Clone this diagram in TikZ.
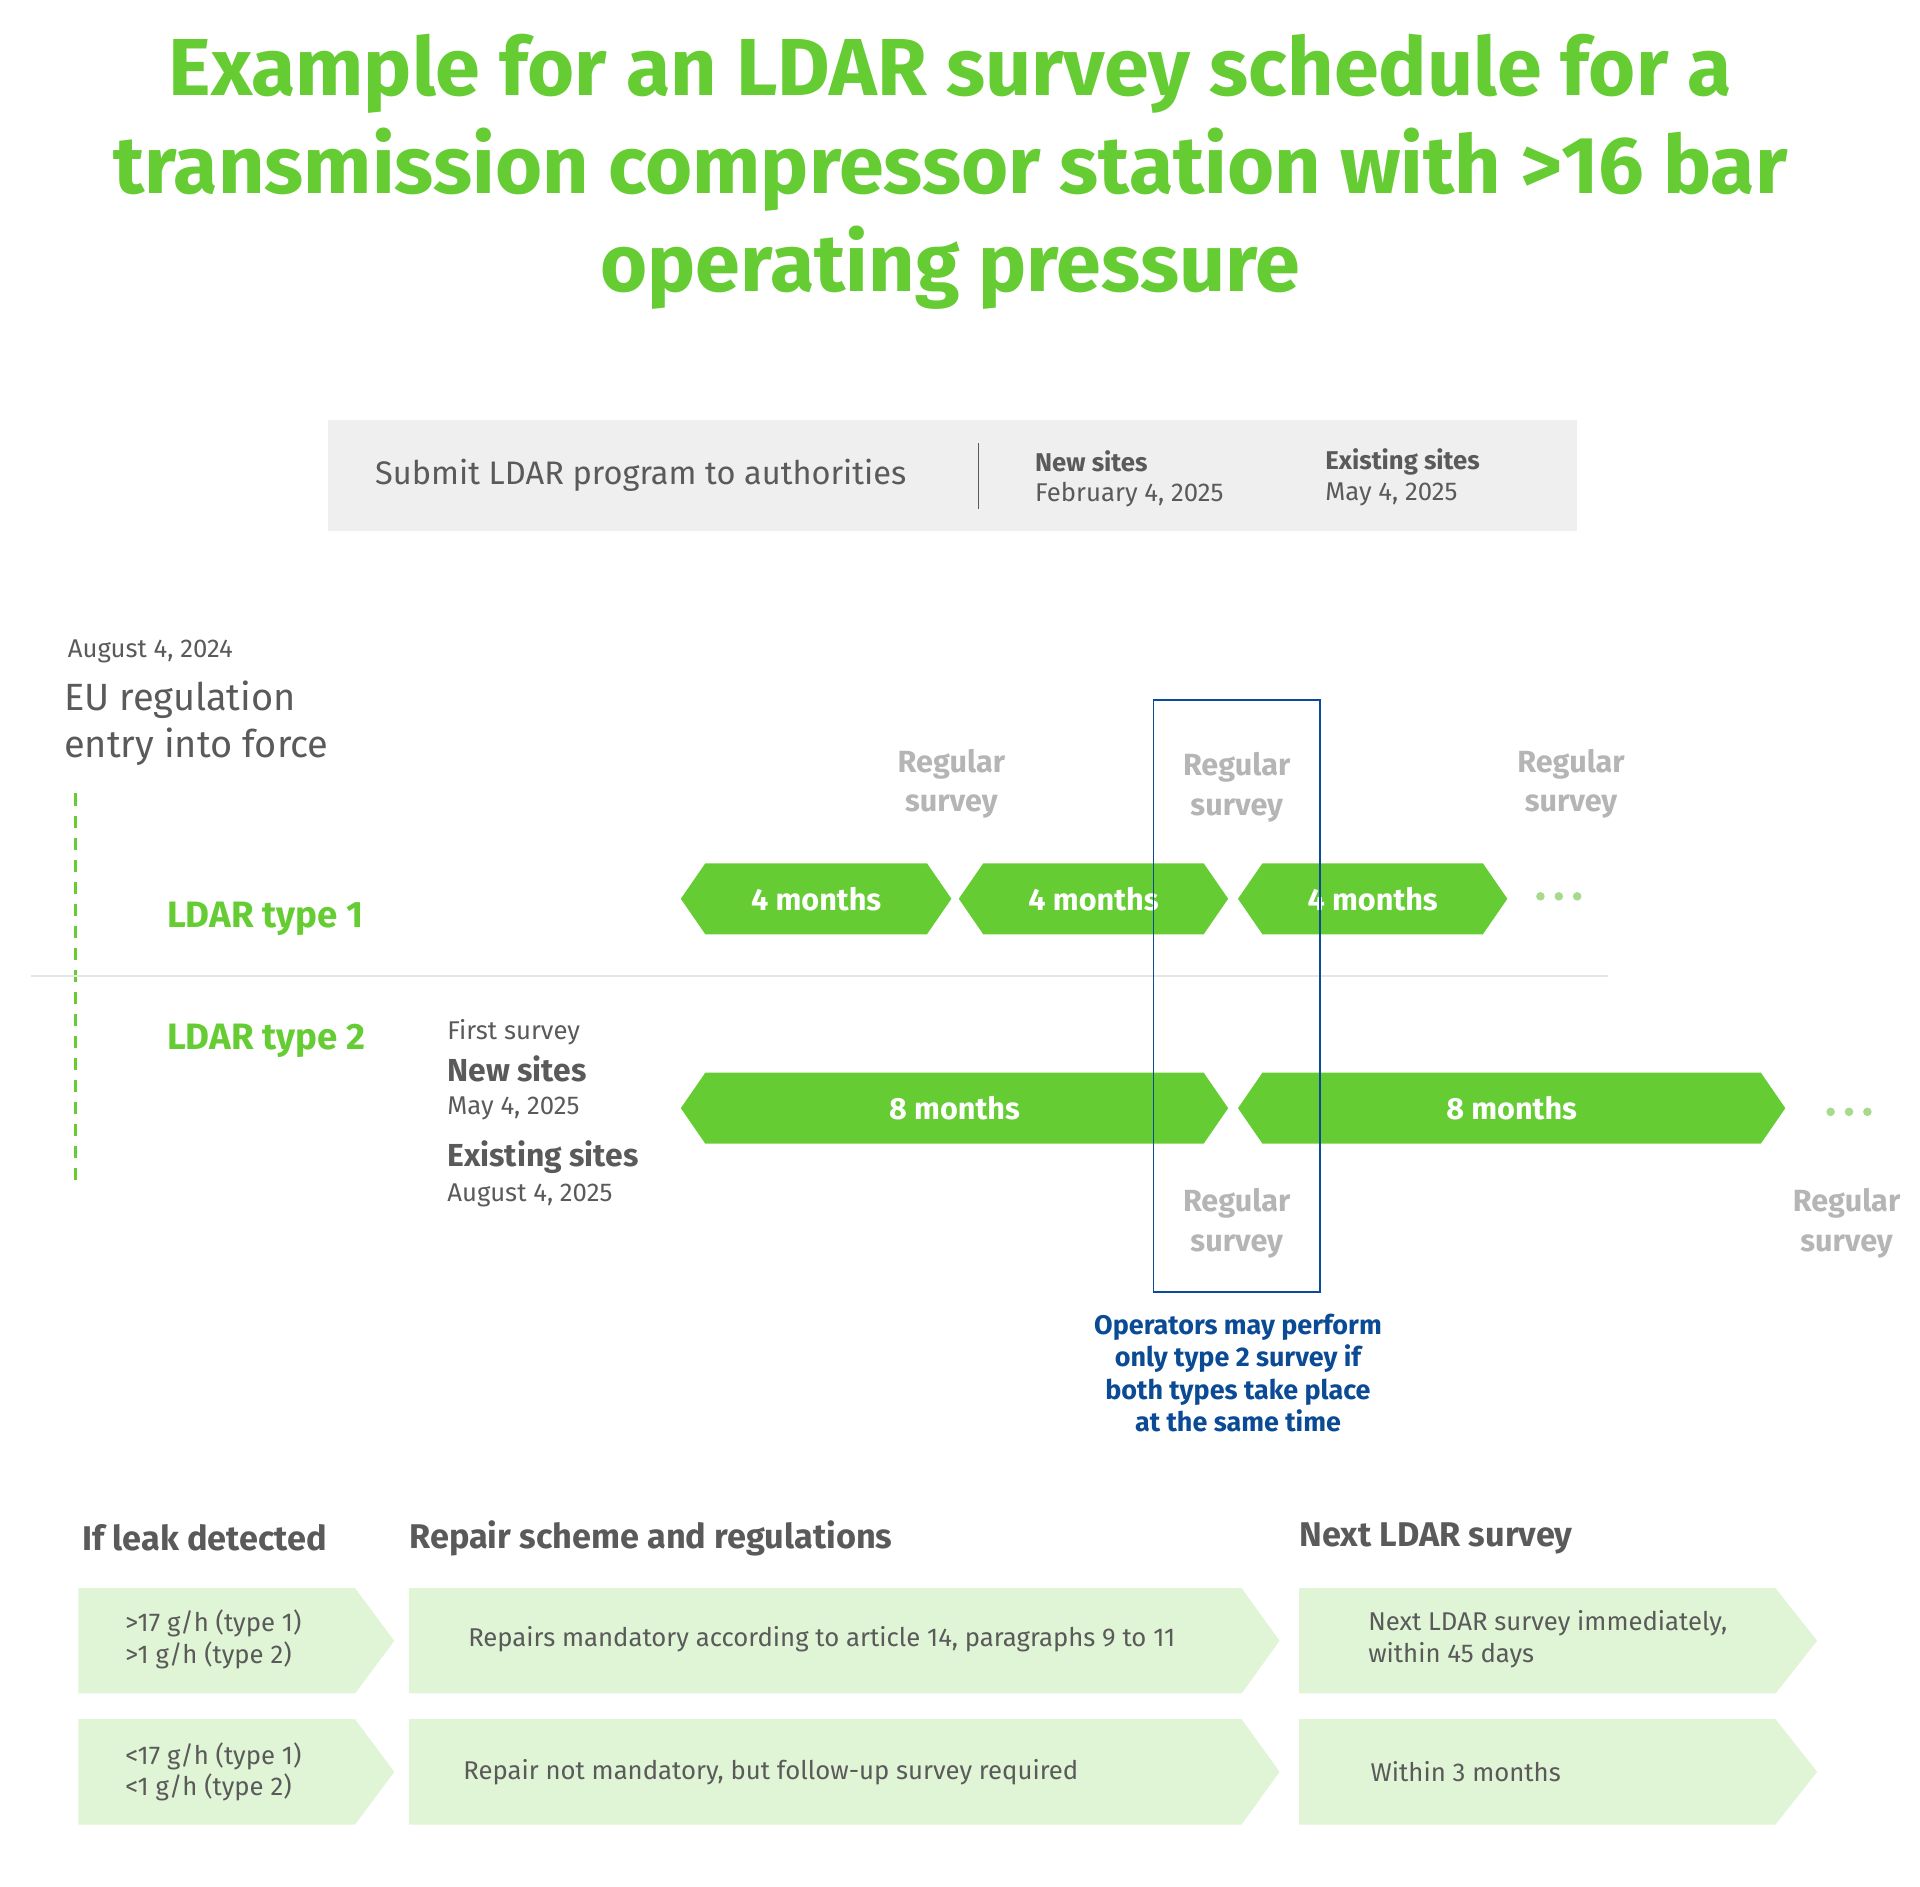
\documentclass[tikz,border=0pt]{standalone}
\usepackage{fontspec}
\setmainfont{Fira Sans}
\usetikzlibrary{positioning}
\definecolor{ldargreen}{HTML}{66CC33}
\definecolor{palegreen}{HTML}{E0F4D6}
\definecolor{dotgreen}{HTML}{A8DA8C}
\definecolor{boxgrey}{HTML}{EFEFEF}
\definecolor{textgrey}{HTML}{5A5A5A}
\definecolor{surveygrey}{HTML}{B5B5B5}
\definecolor{noteblue}{HTML}{0B4A94}
% hexagonal bar: x1, x2, y1, y2, name, label
\newcommand{\hexbar}[6]{%
  \fill[ldargreen] (#1,{(#3+#4)/2}) -- (#1+20,#3) -- (#2-20,#3) -- (#2,{(#3+#4)/2})
    -- (#2-20,#4) -- (#1+20,#4) -- cycle;
  \node[barlabel] (#5) at ({(#1+#2)/2},{(#3+#4)/2}) {#6};}
% pale arrow box: x1, x2, tip, y1, y2
\newcommand{\palebox}[5]{%
  \fill[palegreen] (#1,#4) -- (#2,#4) -- (#3,{(#4+#5)/2}) -- (#2,#5) -- (#1,#5) -- cycle;}
\begin{document}
\begin{tikzpicture}[
    x=0.5pt, y=-0.5pt,
    title/.style={font=\fontsize{33}{40}\selectfont\bfseries, text=ldargreen, align=center},
    barlabel/.style={font=\fontsize{12.5}{15}\selectfont\bfseries, text=white},
    survey/.style={font=\fontsize{12.5}{16}\selectfont\bfseries, text=surveygrey, align=center},
    plain/.style={font=\fontsize{13.3}{16}\selectfont, text=textgrey, anchor=west, inner sep=0pt},
    small/.style={font=\fontsize{10.5}{13}\selectfont, text=textgrey, anchor=west, inner sep=0pt},
    smallbold/.style={font=\fontsize{10.5}{13}\selectfont\bfseries, text=textgrey, anchor=west, inner sep=0pt},
    typelabel/.style={font=\fontsize{15}{18}\selectfont\bfseries, text=ldargreen, anchor=west, inner sep=0pt},
    header/.style={font=\fontsize{14}{17}\selectfont\bfseries, text=textgrey, anchor=west, inner sep=0pt},
    boxtext/.style={font=\fontsize{10.5}{13}\selectfont, text=textgrey, anchor=west, inner sep=0pt, align=left},
    dot/.style={circle, fill=dotgreen, inner sep=0pt, minimum size=3.5pt}
]
    \useasboundingbox (0,0) rectangle (1568,1541);

    % title
    \node[title] (title) at (776,140) {Example for an LDAR survey schedule for a\\
      transmission compressor station with >16 bar\\ operating pressure};

    % submit box
    \fill[boxgrey] (268,343) rectangle (1288,434);
    \node[plain] (submit) at (306,388) {Submit LDAR program to authorities};
    \draw[textgrey, line width=0.7pt] (799,362) -- (799,416);
    \node[smallbold] (newhead) at (845,377) {New sites};
    \node[small] (newdate) at (845,404) {February 4, 2025};
    \node[smallbold] (exhead) at (1082,377) {Existing sites};
    \node[small] (exdate) at (1082,404) {May 4, 2025};

    % entry into force
    \node[small] (entrydate) at (55,532) {August 4, 2024};
    \node[font=\fontsize{15.5}{19}\selectfont, text=textgrey, anchor=north west, inner sep=0pt, align=left]
      (entry) at (52,556) {EU regulation\\ entry into force};
    \draw[ldargreen, line width=1.2pt, dash pattern=on 5pt off 4pt] (62,648) -- (62,968);
    \draw[black!10, line width=1pt] (25,797) -- (1313,797);

    % type rows
    \node[typelabel] (type1) at (136,750) {LDAR type 1};
    \node[typelabel] (type2) at (136,850) {LDAR type 2};
    \node[small] (first) at (365,843) {First survey};
    \node[header, font=\fontsize{13}{16}\selectfont\bfseries] (firstnew) at (365,873) {New sites};
    \node[small] (firstnewdate) at (365,905) {May 4, 2025};
    \node[header, font=\fontsize{13}{16}\selectfont\bfseries] (firstex) at (365,945) {Existing sites};
    \node[small] (firstexdate) at (365,976) {August 4, 2025};

    \hexbar{556}{777}{705}{763}{barA}{4 months}
    \hexbar{783}{1003}{705}{763}{barB}{4 months}
    \hexbar{1011}{1231}{705}{763}{barC}{4 months}
    \hexbar{556}{1003}{876}{934}{barD}{8 months}
    \hexbar{1011}{1458}{876}{934}{barE}{8 months}
    \foreach \x in {1258,1273,1288} \node[dot] at (\x,732) {};
    \foreach \x in {1495,1510,1525} \node[dot] at (\x,908) {};

    \node[survey] (surveyA) at (777,640) {Regular\\ survey};
    \node[survey] (surveyB) at (1010,643) {Regular\\ survey};
    \node[survey] (surveyC) at (1283,640) {Regular\\ survey};
    \node[survey] (surveyD) at (1010,999) {Regular\\ survey};
    \node[survey] (surveyE) at (1508,999) {Regular\\ survey};

    % overlap note
    \draw[noteblue, line width=0.8pt] (942,572) rectangle (1078,1055);
    \node[font=\fontsize{11}{13.2}\selectfont\bfseries, text=noteblue, align=center, anchor=north]
      (note) at (1011,1066) {Operators may perform\\ only type 2 survey if\\ both types take place\\ at the same time};

    % leak table
    \node[header] (leakhead) at (67,1256) {If leak detected};
    \node[header] (repairhead) at (334,1256) {Repair scheme and regulations};
    \node[header] (nexthead) at (1061,1256) {Next LDAR survey};

    \palebox{64}{290}{322}{1297}{1383}
    \palebox{334}{1014}{1045}{1297}{1383}
    \palebox{1061}{1450}{1484}{1297}{1383}
    \palebox{64}{290}{322}{1404}{1490}
    \palebox{334}{1014}{1045}{1404}{1490}
    \palebox{1061}{1450}{1484}{1404}{1490}

    \node[boxtext] (highleak) at (102,1339) {>17 g/h (type 1)\\ >1 g/h (type 2)};
    \node[boxtext] (highrepair) at (382,1339) {Repairs mandatory according to article 14, paragraphs 9 to 11};
    \node[boxtext] (highnext) at (1117,1339) {Next LDAR survey immediately,\\ within 45 days};
    \node[boxtext] (lowleak) at (102,1447) {<17 g/h (type 1)\\ <1 g/h (type 2)};
    \node[boxtext] (lowrepair) at (378,1447) {Repair not mandatory, but follow-up survey required};
    \node[boxtext] (lownext) at (1119,1447) {Within 3 months};
\end{tikzpicture}
\end{document}
